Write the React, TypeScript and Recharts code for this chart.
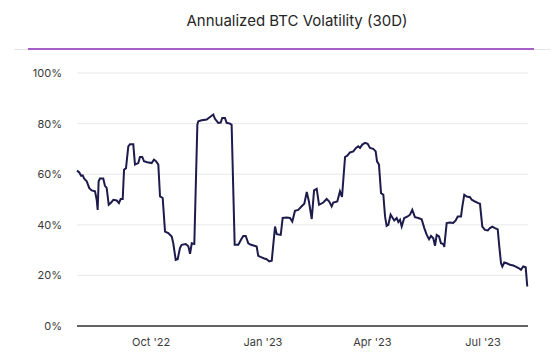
import React from 'react';
import { LineChart, Line, XAxis, YAxis, CartesianGrid } from 'recharts';

// days since 1 Aug 2022
const dayOffsets = [
  0, 1.9, 3.3, 4.7, 5.8, 8, 10.1, 12.1, 14.8, 16.2, 17, 17.8, 18.9, 21.6, 23, 24.4, 26.1, 27.7, 29.9, 32.7,
  34.5, 35.9, 37.6, 38.7, 40.3, 42.2, 43.6, 46.3, 47.7, 50.4, 51.8, 53.7, 55.1, 57.8, 61.4, 63.3, 65, 66.9,
  68.3, 70.5, 72.4, 75.1, 77.9, 79.2, 81.2, 82.8, 84.7, 86.1, 89.4, 91.6, 93, 94.4, 96.5, 99, 99.8, 102.6,
  106.7, 109.4, 112.1, 113.5, 116.2, 118.2, 119.5, 121.7, 123.1, 125.9, 127.2, 129.7, 132.7, 134.9, 136.8,
  138.8, 140.9, 143.1, 145.9, 147.8, 149.1, 151.9, 154.1, 156, 158.2, 160.2, 162.9, 164.3, 167.6, 169.2,
  172.5, 175.2, 177.1, 179.3, 182, 184.8, 187, 189, 190.8, 193.1, 195, 197.2, 199.1, 202.6, 205.4, 207.5,
  209.5, 210.8, 214.1, 216.3, 218, 220.5, 222.3, 224.6, 227.3, 229.5, 231.4, 232.8, 234.7, 236.9, 239.1,
  241, 243.7, 245.7, 246.8, 248.4, 250.1, 252, 253.4, 254.7, 256.1, 258, 259.7, 261, 263, 264.3, 265.7,
  267.1, 269.2, 272, 273.9, 275.8, 278, 280.8, 283.5, 285.7, 287.7, 289.6, 291.2, 293.1, 294.5, 295.9,
  297.8, 299.4, 301.3, 302.1, 304.1, 306.8, 309.5, 311.5, 313.2, 315.9, 317, 318.6, 320.6, 323.3, 324.7,
  327.4, 330.1, 331.5, 333.4, 335.6, 337.9, 339.7, 341.6, 343.8, 346.1, 347.4, 348.8, 349.9, 351.5, 353.5,
  356.2, 358.9, 360.9, 363.6, 365.2, 367.1, 369.1, 370.4,
];

const volatility = [
  61.4, 60.7, 59.4, 59.5, 58.3, 57.2, 54.5, 53.6, 53.2, 49.9, 45.9, 57.2, 58.3, 58.3, 55.4, 54.6, 47.9, 48.6, 49.9, 49.6,
  48.6, 50.2, 50.2, 61.8, 62.4, 71, 71.8, 71.8, 63.8, 64.4, 66.8, 66.8, 65.1, 64.7, 64.4, 65.7, 65.1, 63.8,
  51.2, 50.6, 37.3, 36.7, 35.4, 32.7, 26.1, 26.4, 30.8, 32.1, 32.4, 31.5, 28.5, 32.7, 32.4, 79.6, 80.9, 81.3,
  81.6, 82.6, 83.6, 81.9, 80.3, 80.4, 82.2, 82.2, 80.3, 80, 79.5, 32.1, 32.1, 34.1, 35.6,
  35.6, 32.7, 32.1, 31.7, 31.4, 27.7, 27.1, 26.7, 26.4, 25.5, 25.8, 39.3, 36.3, 36, 42.7,
  42.9, 42.7, 41.3, 45.5, 45.9, 47.3, 48.3, 53, 49.2, 42.3, 53.6, 54.2, 47.9, 48.8, 50.2, 49.2,
  47.3, 48.8, 49.2, 53.2, 51, 66.8, 67.3, 68.6, 69, 70.4, 71, 70.4, 71.7, 72.4, 72,
  70.4, 70, 69, 65.1, 63.8, 52.5, 51.9, 43.3, 39.6, 40, 44, 42.7, 41.7, 42.7, 41.1, 42,
  39.3, 42.7, 43.3, 44, 45.9, 43, 42.7, 42.2, 38.7, 36, 34.3, 35.6, 34.7, 31.7, 36,
  35.4, 32.7, 32.4, 31.3, 40.7, 40.9, 40.7, 41.7, 43.3, 43.3, 47.3, 51.9, 51.2, 50.9, 49.9,
  49.2, 48.6, 48.3, 39.3, 38, 37.8, 38.7, 39.3, 38.7, 38.2, 31.4, 24.8, 23.5, 25.1, 24.8,
  24.2, 23.9, 23.5, 22.8, 22.2, 23.5, 23.2, 15.6,
];

const xTicks = [61, 153, 243, 334];
const xTickLabels = ["Oct '22", "Jan '23", "Apr '23", "Jul '23"];
const yTicks = [0, 20, 40, 60, 80, 100];

const data = dayOffsets.map((d, i) => ({ day: d, vol: volatility[i] }));

const FONT = 'Inter, "Open Sans", sans-serif';

export default function App() {
  return (
    <div style={{ position: 'absolute', left: 0, top: 0, width: 555, height: 357, background: '#fff', fontFamily: FONT }}>
      {/* title + divider */}
      <div
        style={{
          position: 'absolute',
          top: 11,
          left: 297,
          transform: 'translateX(-50%)',
          whiteSpace: 'nowrap',
          fontSize: 15,
          color: '#262626',
          lineHeight: '20px',
        }}
      >
        Annualized BTC Volatility (30D)
      </div>
      <div style={{ position: 'absolute', top: 49, left: 14, width: 536, height: 1, background: '#e4e4e4' }} />
      <div style={{ position: 'absolute', top: 48, left: 28, width: 506, height: 2, background: '#a65fc8' }} />

      <div style={{ position: 'absolute', left: 0, top: 0 }}>
        <LineChart width={555} height={357} data={data} margin={{ top: 73, right: 27, bottom: 1, left: 0 }}>
          <CartesianGrid vertical={false} stroke="#e8e8e8" strokeWidth={1} />
          <XAxis
            dataKey="day"
            type="number"
            domain={[0, 371]}
            ticks={xTicks}
            height={30}
            tickFormatter={(v: number) => xTickLabels[xTicks.indexOf(v)] ?? ''}
            axisLine={{ stroke: '#333', strokeWidth: 1.5 }}
            tickLine={false}
            tickMargin={6}
            tick={{ fill: '#3a3a3a', fontSize: 11, fontFamily: FONT }}
          />
          <YAxis
            type="number"
            domain={[0, 100]}
            ticks={yTicks}
            width={77}
            tickFormatter={(v: number) => `${v}%`}
            axisLine={false}
            tickLine={false}
            tickMargin={9}
            tick={{ fill: '#3a3a3a', fontSize: 11, fontFamily: FONT }}
          />
          <Line
            type="linear"
            dataKey="vol"
            stroke="#1d1b4c"
            strokeWidth={2}
            dot={false}
            isAnimationActive={false}
          />
        </LineChart>
      </div>
    </div>
  );
}
